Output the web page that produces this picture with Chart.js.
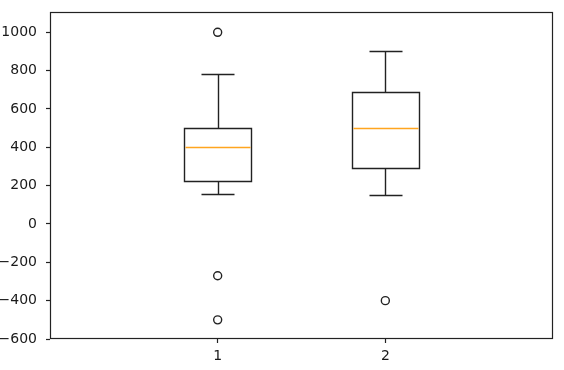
<!DOCTYPE html>
<html lang="en">
<head>
    <meta charset="UTF-8">
    <title>Boxplot</title>
    <script src="https://cdn.jsdelivr.net/npm/chart.js"></script>
    <style>
        body { margin: 0; background: #fff; }
        canvas { display: block; }
    </style>
</head>
<body>
<canvas id="myChart" width="564" height="370"></canvas>

<script>
    // Box plot data
    const positions = [1, 2];
    const whiskerLow = [158, 150];
    const q1 = [225, 290];
    const medians = [400, 500];
    const q3 = [500, 688];
    const whiskerHigh = [782, 900];
    const outliers = [[1000, -270, -500], [-400]];

    const xTicks = [1, 2];
    const yTicks = [-600, -400, -200, 0, 200, 400, 600, 800, 1000];

    const lineColor = '#222';
    const medianColor = '#ffa51f';

    // flatten the fliers into scatter points
    const flierPoints = [];
    positions.forEach((p, i) => {
        outliers[i].forEach(v => flierPoints.push({ x: p, y: v }));
    });

    // draws boxes, whiskers, caps and the frame with the chart's scales
    const boxPlugin = {
        id: 'boxes',
        beforeDatasetsDraw(chart) {
            const ctx = chart.ctx;
            const xs = chart.scales.x;
            const ys = chart.scales.y;
            const halfBox = 0.2;
            const halfCap = 0.1;
            const px = v => Math.round(v) + 0.5;  // keep thin lines crisp
            ctx.save();
            ctx.lineWidth = 1.4;
            positions.forEach((p, i) => {
                const xc = px(xs.getPixelForValue(p));
                const xl = px(xs.getPixelForValue(p - halfBox));
                const xr = px(xs.getPixelForValue(p + halfBox));
                const cl = px(xs.getPixelForValue(p - halfCap));
                const cr = px(xs.getPixelForValue(p + halfCap));
                const yLo = px(ys.getPixelForValue(whiskerLow[i]));
                const yQ1 = px(ys.getPixelForValue(q1[i]));
                const yMed = px(ys.getPixelForValue(medians[i]));
                const yQ3 = px(ys.getPixelForValue(q3[i]));
                const yHi = px(ys.getPixelForValue(whiskerHigh[i]));

                ctx.strokeStyle = lineColor;
                ctx.beginPath();
                // box
                ctx.rect(xl, yQ3, xr - xl, yQ1 - yQ3);
                // whiskers
                ctx.moveTo(xc, yQ1); ctx.lineTo(xc, yLo);
                ctx.moveTo(xc, yQ3); ctx.lineTo(xc, yHi);
                // caps
                ctx.moveTo(cl, yLo); ctx.lineTo(cr, yLo);
                ctx.moveTo(cl, yHi); ctx.lineTo(cr, yHi);
                ctx.stroke();

                ctx.strokeStyle = medianColor;
                ctx.beginPath();
                ctx.moveTo(xl + 1, yMed); ctx.lineTo(xr - 1, yMed);
                ctx.stroke();
            });
            // axes frame
            const a = chart.chartArea;
            ctx.strokeStyle = lineColor;
            ctx.lineWidth = 1.2;
            ctx.strokeRect(px(a.left), px(a.top), Math.round(a.right - a.left) - 1, Math.round(a.bottom - a.top) - 1);
            ctx.restore();
        }
    };

    const ctx = document.getElementById('myChart').getContext('2d');
    const myChart = new Chart(ctx, {
        type: 'scatter',
        data: {
            datasets: [{
                label: 'fliers',
                data: flierPoints,
                pointStyle: 'circle',
                pointRadius: 4,
                pointBorderWidth: 1.4,
                pointBorderColor: lineColor,
                pointBackgroundColor: 'rgba(0,0,0,0)'
            }]
        },
        options: {
            responsive: false,
            animation: false,
            devicePixelRatio: 1,
            layout: { padding: { top: 12, right: 11, left: 0, bottom: 0 } },
            plugins: {
                legend: { display: false },
                tooltip: { enabled: false }
            },
            scales: {
                x: {
                    type: 'linear',
                    min: 0,
                    max: 3,
                    afterBuildTicks: s => { s.ticks = xTicks.map(v => ({ value: v })); },
                    afterFit: s => { s.height = 31; s.paddingLeft = 0; s.paddingRight = 0; },
                    grid: { drawOnChartArea: false, tickLength: 4, color: lineColor, tickWidth: 1.2 },
                    border: { display: false },
                    ticks: { color: '#1a1a1a', font: { family: 'DejaVu Sans', size: 14 }, padding: 5 }
                },
                y: {
                    type: 'linear',
                    min: -600,
                    max: 1106,
                    afterBuildTicks: s => { s.ticks = yTicks.map(v => ({ value: v })); },
                    afterFit: s => { s.width = 50; s.paddingTop = 0; s.paddingBottom = 0; },
                    grid: { drawOnChartArea: false, tickLength: 4, color: lineColor, tickWidth: 1.2 },
                    border: { display: false },
                    ticks: {
                        color: '#1a1a1a',
                        font: { family: 'DejaVu Sans', size: 14 },
                        padding: 9,
                        callback: v => String(v).replace('-', '\u2212')
                    }
                }
            }
        },
        plugins: [boxPlugin]
    });
</script>

</body>
</html>
